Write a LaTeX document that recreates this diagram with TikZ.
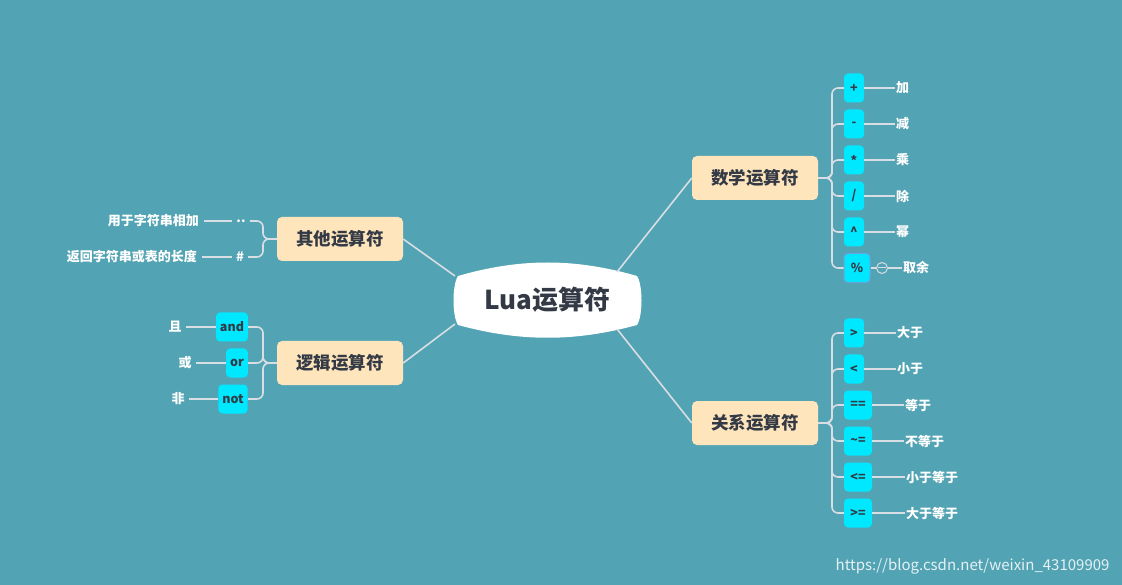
\documentclass[tikz,border=0pt]{standalone}
\usepackage{fontspec}
\setmainfont{Noto Sans CJK SC}
\begin{document}
\begin{tikzpicture}[x=1pt,y=-1pt,
  conn/.style={draw=linec,line width=1.6pt},
  mid/.style={fill=orangec,rounded corners=5pt,minimum width=126pt,minimum height=44pt,font=\fontsize{17.5}{17.5}\bfseries,text=darkc},
  leaf/.style={fill=cyanc,rounded corners=4pt,minimum height=29pt,minimum width=20pt,inner xsep=4pt,font=\fontsize{12.5}{12.5}\bfseries,text=darkc},
  lab/.style={font=\fontsize{13}{13}\bfseries,text=white,inner sep=1pt},
  plain/.style={font=\fontsize{13}{13}\bfseries,text=white,inner sep=1pt}]
\definecolor{bgc}{HTML}{52A3B3}
\definecolor{linec}{HTML}{D8DEE4}
\definecolor{orangec}{HTML}{FFE5BC}
\definecolor{cyanc}{HTML}{00E8FF}
\definecolor{darkc}{HTML}{333A45}
\fill[bgc] (0,0) rectangle (1122,585);
\useasboundingbox (0,0) rectangle (1122,585);
% center
\fill[white] (458,276) .. controls (520,258) and (575,258) .. (637,276) .. controls (643,285) and (643,316) .. (637,325) .. controls (575,342) and (520,342) .. (458,325) .. controls (452,316) and (452,285) .. (458,276) -- cycle;
\node[font=\fontsize{26}{26}\bfseries,text=darkc] (c) at (547,300) {Lua运算符};
\coordinate (c1) at (617,272); \coordinate (c2) at (617,329);
\coordinate (c3) at (455,276); \coordinate (c4) at (455,324);
\node[mid] (math) at (755,178) {数学运算符};
\node[mid] (rel) at (755,423) {关系运算符};
\node[mid] (oth) at (340,239) {其他运算符};
\node[mid] (log) at (340,363) {逻辑运算符};
\draw[conn] (c1) -- (math.west);
\draw[conn] (c2) -- (rel.west);
\draw[conn] (c3) -- (oth.east);
\draw[conn] (c4) -- (log.east);
% math
\foreach \n/\s/\y/\t in {m1/+/88/加,m2/-/124/减,m3/*/160/乘,m4/\slash/196/除,m5/\^{}/232/幂}{
  \node[leaf] (\n) at (854,\y) {\s};
  \node[lab,anchor=west] (\n l) at (895,\y) {\t};
  \draw[conn] (\n.east) -- (\n l.west);
  \draw[conn,rounded corners=6pt] (math.east) -- (832,178) -- (832,\y) -- (\n.west);
}
\node[leaf,minimum width=26pt,draw=cyan!60!blue!60,line width=1pt] (m6) at (857,268) {\%};
\node[circle,draw=linec,line width=1pt,minimum size=11pt,inner sep=0pt] (m6c) at (882,268) {};
\draw[linec,line width=1pt] (878,268) -- (886,268);
\node[lab,anchor=west] (m6l) at (902,268) {取余};
\draw[conn] (m6.east) -- (m6c.west);
\draw[conn] (m6c.east) -- (m6l.west);
\draw[conn,rounded corners=6pt] (math.east) -- (832,178) -- (832,268) -- (m6.west);
% relational
\foreach \n/\s/\y/\w/\lx/\t in {r1/>/333/20/896/大于,r2/</369/20/896/小于,r3/==/405/28/904/等于,r4/\textasciitilde=/441/28/904/不等于,r5/<=/477/28/905/小于等于,r6/>=/513/28/905/大于等于}{
  \node[leaf,minimum width=\w pt] (\n) at (844+\w/2,\y) {\s};
  \node[lab,anchor=west] (\n l) at (\lx,\y) {\t};
  \draw[conn] (\n.east) -- (\n l.west);
  \draw[conn,rounded corners=6pt] (rel.east) -- (832,423) -- (832,\y) -- (\n.west);
}
% other
\node[plain] (o1) at (241,221) {..};
\node[plain] (o2) at (240,257) {\#};
\node[lab,anchor=east] (o1l) at (200,221) {用于字符串相加};
\node[lab,anchor=east] (o2l) at (198,257) {返回字符串或表的长度};
\draw[conn] ([xshift=4pt]o1l.east) -- ([xshift=-3pt]o1.west);
\draw[conn] ([xshift=4pt]o2l.east) -- ([xshift=-3pt]o2.west);
\draw[conn,rounded corners=6pt] (oth.west) -- (263,239) -- (263,221) -- ([xshift=3pt]o1.east);
\draw[conn,rounded corners=6pt] (oth.west) -- (263,239) -- (263,257) -- ([xshift=3pt]o2.east);
% logic
\foreach \n/\s/\x/\y/\lx/\t in {g1/and/232/327/175/且,g2/or/237/363/185/或,g3/not/233/399/178/非}{
  \node[leaf] (\n) at (\x,\y) {\s};
  \node[lab] (\n l) at (\lx,\y) {\t};
  \draw[conn] ([xshift=3pt]\n l.east) -- (\n.west);
  \draw[conn,rounded corners=6pt] (log.west) -- (263,363) -- (263,\y) -- (\n.east);
}
\node[anchor=east,font=\fontsize{15}{15}\selectfont,text=white!85!bgc] (wm) at (1113,566) {https://blog.csdn.net/weixin\_43109909};
\end{tikzpicture}
\end{document}
